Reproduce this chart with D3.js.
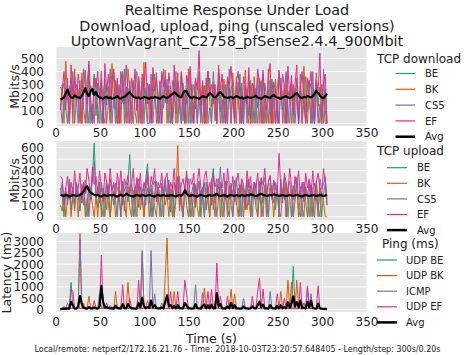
<!DOCTYPE html>
<html><head><meta charset="utf-8">
<script src="https://cdn.jsdelivr.net/npm/d3@7"></script>
<style>html,body{margin:0;padding:0;background:#fff;} svg{display:block;font-family:"DejaVu Sans",sans-serif;}</style>
</head><body><svg id="c" width="474" height="355"></svg>
<script>
const titleLines = ["Realtime Response Under Load", "Download, upload, ping (unscaled versions)", "UptownVagrant_C2758_pfSense2.4.4_900Mbit"];
const footerText = "Local/remote: netperf2/172.16.21.76 - Time: 2018-10-03T23:20:57.648405 - Length/step: 300s/0.20s";
const xLabel = "Time (s)";
const xTicks = [0, 50, 100, 150, 200, 250, 300, 350];
const dlTicks = [0, 100, 200, 300, 400, 500];
const ulTicks = [0, 100, 200, 300, 400, 500, 600];
const pingTicks = [0, 500, 1000, 1500, 2000, 2500, 3000];
const tcpNames = ["BE", "BK", "CS5", "EF"];
const pingNames = ["UDP BE", "UDP BK", "ICMP", "UDP EF"];
const sampleStart = 5, sampleStep = 2;

const dlBE = [280,250,310,120,0,260,330,90,240,300,180,20,350,270,410,150,0,290,220,380,60,310,250,0,200,340,140,280,30,260,390,110,0,300,230,160,420,70,270,190,0,330,250,100,360,200,0,280,150,310,240,40,300,180,390,0,260,210,120,350,170,290,0,330,240,80,310,200,380,20,260,150,340,0,220,300,110,270,400,60,310,190,0,250,350,130,280,20,230,320,90,300,240,0,360,170,260,310,50,280,200,380,0,150,290,240,60,330,210,0,270,120,350,230,0,310,190,260,70,340,160,0,280,390,220,100,300,0,250,180,330,60,240,310,0,270,200,150,360,90,250,310,0,220,340,130,280,200,0,260,0];
const dlBK = [100,300,0,480,200,50,350,0,420,150,260,0,390,120,0,310,450,80,0,280,350,0,180,400,60,0,300,230,0,460,120,330,0,270,0,380,150,0,420,240,0,310,90,0,360,200,0,470,130,0,300,0,250,380,0,140,320,0,200,410,0,260,150,0,330,0,390,100,0,280,180,0,420,60,300,0,250,0,350,130,0,290,0,400,170,0,320,80,0,450,210,0,340,130,0,280,0,390,160,0,320,0,240,0,410,100,0,300,0,360,150,0,280,330,0,190,0,420,0,250,0,340,110,0,300,230,0,380,60,0,290,0,160,350,0,260,0,440,120,0,330,0,210,0,390,80,0,300,180,0,0];
const dlCS5 = [150,0,200,100,350,0,250,400,0,180,0,330,0,220,280,0,400,0,150,0,300,100,0,380,0,250,0,160,420,0,230,0,350,0,150,400,0,280,0,330,120,0,260,400,0,180,350,0,270,0,0,380,0,200,100,0,330,0,420,160,340,0,250,0,180,400,0,230,0,310,0,270,0,380,0,150,330,0,200,0,260,0,350,0,120,0,400,210,0,280,0,180,0,300,0,420,0,250,0,360,200,0,310,0,250,0,380,0,160,300,0,350,0,220,410,0,140,0,330,0,270,0,180,0,350,0,260,400,0,200,0,300,0,230,0,380,0,170,0,340,190,0,400,0,280,0,150,0,420,100,0];
const dlEF = [100,250,400,180,300,0,450,220,350,130,380,250,0,420,300,150,480,200,0,350,280,400,150,320,0,460,250,380,100,300,420,200,330,0,400,280,150,450,230,0,350,250,420,100,300,0,380,260,470,150,300,0,430,250,350,180,0,400,280,330,150,390,260,0,450,200,330,120,400,250,0,370,300,440,180,0,350,260,560,140,330,0,280,400,230,300,150,300,0,420,260,380,100,0,350,290,440,180,0,320,400,220,0,360,280,150,430,0,310,250,180,420,300,0,380,230,100,350,460,0,320,250,0,410,180,380,280,0,440,200,370,100,300,450,0,260,400,180,0,350,280,400,150,0,330,250,540,0,300,380,0];
const dlAvg = [185,190,200,230,260,220,200,195,215,205,200,195,210,240,270,230,210,250,265,220,240,210,200,195,190,200,205,195,200,190,195,200,210,195,190,200,205,215,230,240,220,205,200,195,200,190,195,205,200,195,190,200,195,205,200,195,190,200,210,200,195,205,215,225,240,230,215,205,200,235,250,245,220,200,195,205,200,195,190,200,210,205,200,215,235,225,205,200,210,230,240,225,205,200,195,200,205,195,200,210,205,195,200,190,195,205,200,195,200,205,215,200,195,190,200,210,205,200,195,210,220,205,200,195,190,200,205,210,200,195,200,210,225,235,215,200,195,205,200,210,205,200,210,230,250,235,215,200,195,210,230];

const ulBE = [250,180,0,220,150,300,60,200,120,280,180,50,240,300,100,0,260,150,350,640,200,80,300,0,250,160,320,100,0,230,280,140,0,260,190,300,50,220,310,540,150,0,240,300,80,260,180,0,330,460,120,280,0,200,310,150,60,250,0,290,170,320,40,230,0,270,190,300,100,0,260,350,150,0,220,290,80,240,310,0,180,300,60,250,0,280,420,120,200,330,0,240,160,310,70,0,270,200,320,100,250,0,300,180,60,260,330,0,220,150,290,0,200,340,120,260,0,310,350,180,320,60,250,0,300,190,340,0,230,150,0,270,180,310,50,0,240,300,130,0,220,280,0,190,300,60,250,0,200,280,100];
const ulBK = [100,50,200,0,150,250,0,180,80,230,0,200,120,280,0,160,50,220,100,0,180,0,250,100,0,200,60,280,0,150,220,0,100,250,0,180,120,0,260,80,0,230,150,0,280,60,200,0,170,250,0,150,220,80,0,260,190,0,240,100,200,0,180,270,0,150,620,50,200,0,260,100,0,210,150,0,280,80,0,230,150,0,250,120,0,300,60,200,0,180,270,0,140,220,0,260,100,0,230,150,0,210,280,0,170,60,240,0,190,270,80,0,230,150,0,280,110,0,250,200,0,180,270,60,0,220,150,300,0,190,240,0,130,280,0,200,90,0,260,170,0,230,150,0,310,80,0,210,140,0,0];
const ulCS5 = [200,300,150,250,100,330,180,260,50,300,220,150,280,100,320,200,0,250,300,480,180,260,120,300,200,0,280,150,330,220,100,290,250,180,0,310,220,270,130,250,300,180,0,260,330,150,220,280,100,350,200,0,270,310,160,250,0,290,200,330,150,280,220,0,300,190,260,350,120,0,270,200,330,150,0,280,240,190,310,100,260,0,300,220,180,330,150,0,280,240,430,180,0,260,310,150,290,0,220,340,160,280,0,250,200,320,100,270,0,300,230,150,310,0,260,340,180,0,290,220,120,300,250,0,330,190,270,0,240,310,200,0,280,340,150,260,0,300,220,180,310,0,250,290,170,0,330,240,280,350,150];
const ulEF = [350,330,100,250,350,150,300,200,400,180,250,380,120,300,200,420,320,150,430,280,350,200,400,250,130,380,300,180,420,220,300,160,380,250,400,100,330,270,360,200,280,420,150,340,230,380,100,300,250,400,170,350,280,420,130,300,250,380,200,330,380,150,300,250,420,180,350,100,280,330,230,400,150,330,280,380,120,300,420,250,180,350,400,220,300,100,380,260,330,150,300,250,380,150,420,280,200,350,130,300,380,200,330,280,100,400,250,350,180,300,250,380,150,330,280,420,200,300,360,150,310,250,200,550,250,120,380,300,200,420,280,150,350,250,400,180,300,130,380,250,330,200,400,150,300,380,250,180,420,300,100];
const ulAvg = [190,185,180,190,185,175,180,190,185,180,185,190,200,220,250,265,230,210,200,190,185,190,180,175,185,190,180,185,190,185,190,180,175,185,190,180,185,200,190,185,180,175,185,190,185,180,190,185,180,185,190,185,180,175,185,190,180,185,190,180,185,180,190,185,180,175,185,190,180,200,230,200,185,180,190,185,180,175,185,190,185,180,175,185,190,180,185,190,200,185,180,185,190,180,175,185,190,185,180,190,185,180,190,185,180,190,185,195,190,185,180,185,195,200,190,185,180,185,190,185,195,190,185,180,185,190,185,180,185,190,185,180,185,190,185,180,175,185,190,185,180,185,190,185,180,185,190,185,180,185,190];

const pingBE = [40,45,50,60,55,70,1200,80,50,45,60,50,45,55,50,60,70,55,50,45,50,60,700,80,60,50,45,55,50,60,55,50,45,60,55,50,65,60,55,50,45,50,60,55,50,45,70,60,55,50,60,55,50,45,50,55,60,50,45,55,50,45,55,60,50,55,50,45,60,55,65,60,50,45,55,60,50,45,50,55,60,55,50,45,55,60,50,55,70,60,55,50,45,55,60,50,65,55,50,45,50,55,60,50,45,55,50,60,55,50,45,55,60,50,65,55,50,45,60,55,50,55,60,50,45,55,60,50,55,60,70,1900,80,60,55,50,60,55,50,60,55,50,45,55,50,60,55,50,45,40,40];
const pingBK = [30,35,40,45,40,50,60,55,45,40,60,3350,120,300,60,50,600,70,50,45,50,55,60,50,45,55,50,60,55,50,45,800,70,50,55,60,50,45,1200,80,55,50,60,55,50,70,2500,80,60,400,60,55,50,45,55,50,60,55,70,1500,3150,90,60,55,800,60,50,55,60,50,45,55,60,50,55,50,45,60,55,50,60,950,70,55,50,45,55,60,50,55,50,45,55,60,50,55,900,60,700,60,55,50,45,55,60,50,55,50,45,60,55,50,60,55,50,45,55,60,50,55,50,55,60,50,800,70,55,60,1300,80,1200,70,60,1300,80,55,50,60,55,50,45,55,50,45,50,55,50,45,40,35,30];
const pingICMP = [50,55,60,65,300,70,60,55,50,60,200,3100,90,60,55,50,60,55,50,45,55,50,45,60,55,50,45,55,200,60,50,55,60,50,45,55,60,50,55,60,50,45,55,60,50,55,2600,90,60,55,50,2600,80,700,70,55,60,300,60,55,50,55,60,50,45,55,60,50,55,60,55,50,45,55,60,50,1100,70,55,50,60,55,50,45,55,60,50,55,60,50,55,60,50,45,55,60,50,55,60,50,45,55,60,500,70,55,50,60,55,50,55,60,50,45,55,50,60,55,800,70,55,50,60,55,50,45,55,60,50,55,60,55,50,45,55,60,50,55,60,900,70,700,60,55,50,45,55,50,45,40,35];
const pingEF = [30,40,150,50,45,60,900,800,60,50,200,60,55,50,45,55,60,50,55,400,60,55,50,2400,100,60,300,55,50,45,55,60,50,45,55,1100,70,55,60,500,60,55,50,45,1300,80,55,50,45,55,60,50,45,55,60,50,55,60,50,45,55,60,800,60,55,50,800,70,55,50,1300,700,60,55,50,45,55,60,50,55,750,60,55,800,60,900,70,55,2050,90,600,60,55,50,600,60,55,50,45,55,60,55,50,45,55,60,50,55,600,60,55,800,1400,70,900,60,55,50,45,55,60,55,700,60,55,50,500,60,55,50,45,55,60,50,55,1200,70,300,60,1050,70,55,50,45,55,1050,60,50,45,40,35];
const pingAvg = [30,35,40,45,60,50,350,200,60,50,150,600,250,100,60,50,120,60,55,100,60,50,150,1050,350,100,120,70,60,55,50,180,80,60,55,250,70,60,250,120,60,55,50,45,300,100,530,150,70,120,80,400,100,200,70,60,55,100,60,350,630,150,200,70,180,60,200,70,60,55,300,180,60,55,50,60,250,70,55,50,180,220,60,200,60,220,60,55,730,150,250,60,55,50,150,60,300,70,200,60,55,50,45,150,60,55,50,60,150,60,55,200,350,100,220,60,55,50,200,70,55,50,180,60,200,60,130,60,330,80,300,580,150,330,100,400,70,90,60,350,100,400,80,60,50,270,60,45,40,35,30];

const colors = ["#1b9e77", "#d95f02", "#7570b3", "#e7298a"];

const panels = [
  {top: 47, bottom: 126, domain: [-20, 588], ticks: dlTicks, ylabel: "Mbits/s", ylabelX: 18.5,
   series: [dlBE, dlBK, dlCS5, dlEF], avg: dlAvg, names: tcpNames, title: "TCP download", xLabelY: 136.5,
   lg: {titleX: 377, titleY: 62.5, x1: 395.5, x2: 415, tx: 425, y0: 73.5, dy: 15.8}},
  {top: 141, bottom: 220, domain: [-28, 658], ticks: ulTicks, ylabel: "Mbits/s", ylabelX: 18.5,
   series: [ulBE, ulBK, ulCS5, ulEF], avg: ulAvg, names: tcpNames, title: "TCP upload", xLabelY: 232.5,
   lg: {titleX: 377, titleY: 155, x1: 387, x2: 407, tx: 417, y0: 167.7, dy: 15.6}},
  {top: 233, bottom: 312, domain: [-100, 3370], ticks: pingTicks, ylabel: "Latency (ms)", ylabelX: 11,
   series: [pingBE, pingBK, pingICMP, pingEF], avg: pingAvg, names: pingNames, title: "Ping (ms)", xLabelY: 326,
   lg: {titleX: 382, titleY: 248, x1: 377, x2: 397, tx: 406, y0: 260, dy: 15.6}}
];

const svg = d3.select("#c");
svg.append("rect").attr("width", 474).attr("height", 355).attr("fill", "#fff");

const x = d3.scaleLinear().domain([0, 350]).range([56, 367]);
const tOf = i => sampleStart + i * sampleStep;

panels.forEach((p, pi) => {
  const y = d3.scaleLinear().domain(p.domain).range([p.bottom, p.top]);
  const g = svg.append("g");
  g.append("rect").attr("x", x.range()[0]).attr("y", p.top).attr("width", x.range()[1] - x.range()[0])
    .attr("height", p.bottom - p.top).attr("fill", "#e5e5e5");
  const clipId = "clip" + pi;
  svg.append("clipPath").attr("id", clipId).append("rect").attr("x", x.range()[0]).attr("y", p.top)
    .attr("width", x.range()[1] - x.range()[0]).attr("height", p.bottom - p.top);
  g.selectAll(".vg").data(xTicks).enter().append("line")
    .attr("x1", d => x(d)).attr("x2", d => x(d)).attr("y1", p.top).attr("y2", p.bottom)
    .attr("stroke", "#fff").attr("stroke-width", 1);
  g.selectAll(".hg").data(p.ticks).enter().append("line")
    .attr("x1", x.range()[0]).attr("x2", x.range()[1]).attr("y1", d => y(d)).attr("y2", d => y(d))
    .attr("stroke", "#fff").attr("stroke-width", 1);
  g.selectAll(".yl").data(p.ticks).enter().append("text")
    .attr("x", 44).attr("y", d => y(d)).attr("dy", "0.36em").attr("text-anchor", "end")
    .attr("font-size", 12).attr("fill", "#222").text(d => d);
  g.selectAll(".xl").data(xTicks).enter().append("text")
    .attr("x", d => x(d)).attr("y", p.xLabelY).attr("text-anchor", "middle")
    .attr("font-size", 12).attr("fill", "#222").text(d => d);
  const cy = (p.top + p.bottom) / 2;
  g.append("text").attr("transform", `translate(${p.ylabelX},${cy}) rotate(-90)`)
    .attr("text-anchor", "middle").attr("font-size", 12.5).attr("fill", "#222").text(p.ylabel);
  const line = d3.line().x((d, i) => x(tOf(i))).y(d => y(d));
  const lg = g.append("g").attr("clip-path", `url(#${clipId})`);
  p.series.forEach((s, si) => {
    lg.append("path").datum(s).attr("d", line).attr("fill", "none")
      .attr("stroke", colors[si]).attr("stroke-width", 1).attr("stroke-linejoin", "round");
  });
  lg.append("path").datum(p.avg).attr("d", line).attr("fill", "none")
    .attr("stroke", "#000").attr("stroke-width", 2.2).attr("stroke-linejoin", "round");
  const L = p.lg;
  svg.append("text").attr("x", L.titleX).attr("y", L.titleY).attr("font-size", 12).attr("fill", "#222").text(p.title);
  const entries = p.names.map((n, i) => ({name: n, color: colors[i], w: 1.2})).concat([{name: "Avg", color: "#000", w: 2.5}]);
  entries.forEach((e, i) => {
    const yy = L.y0 + i * L.dy;
    svg.append("line").attr("x1", L.x1).attr("x2", L.x2).attr("y1", yy).attr("y2", yy)
      .attr("stroke", e.color).attr("stroke-width", e.w);
    svg.append("text").attr("x", L.tx).attr("y", yy).attr("dy", "0.36em").attr("font-size", 10)
      .attr("fill", "#222").text(e.name);
  });
});

titleLines.forEach((t, i) => {
  svg.append("text").attr("x", 237).attr("y", [14.5, 30.5, 45.5][i]).attr("text-anchor", "middle")
    .attr("font-size", 14.4).attr("fill", "#222").text(t);
});

svg.append("text").attr("x", 211.5).attr("y", 343).attr("text-anchor", "middle")
  .attr("font-size", 12.5).attr("fill", "#222").text(xLabel);
svg.append("text").attr("x", 237.5).attr("y", 352).attr("text-anchor", "middle")
  .attr("font-size", 8).attr("fill", "#222").text(footerText);
</script></body></html>
